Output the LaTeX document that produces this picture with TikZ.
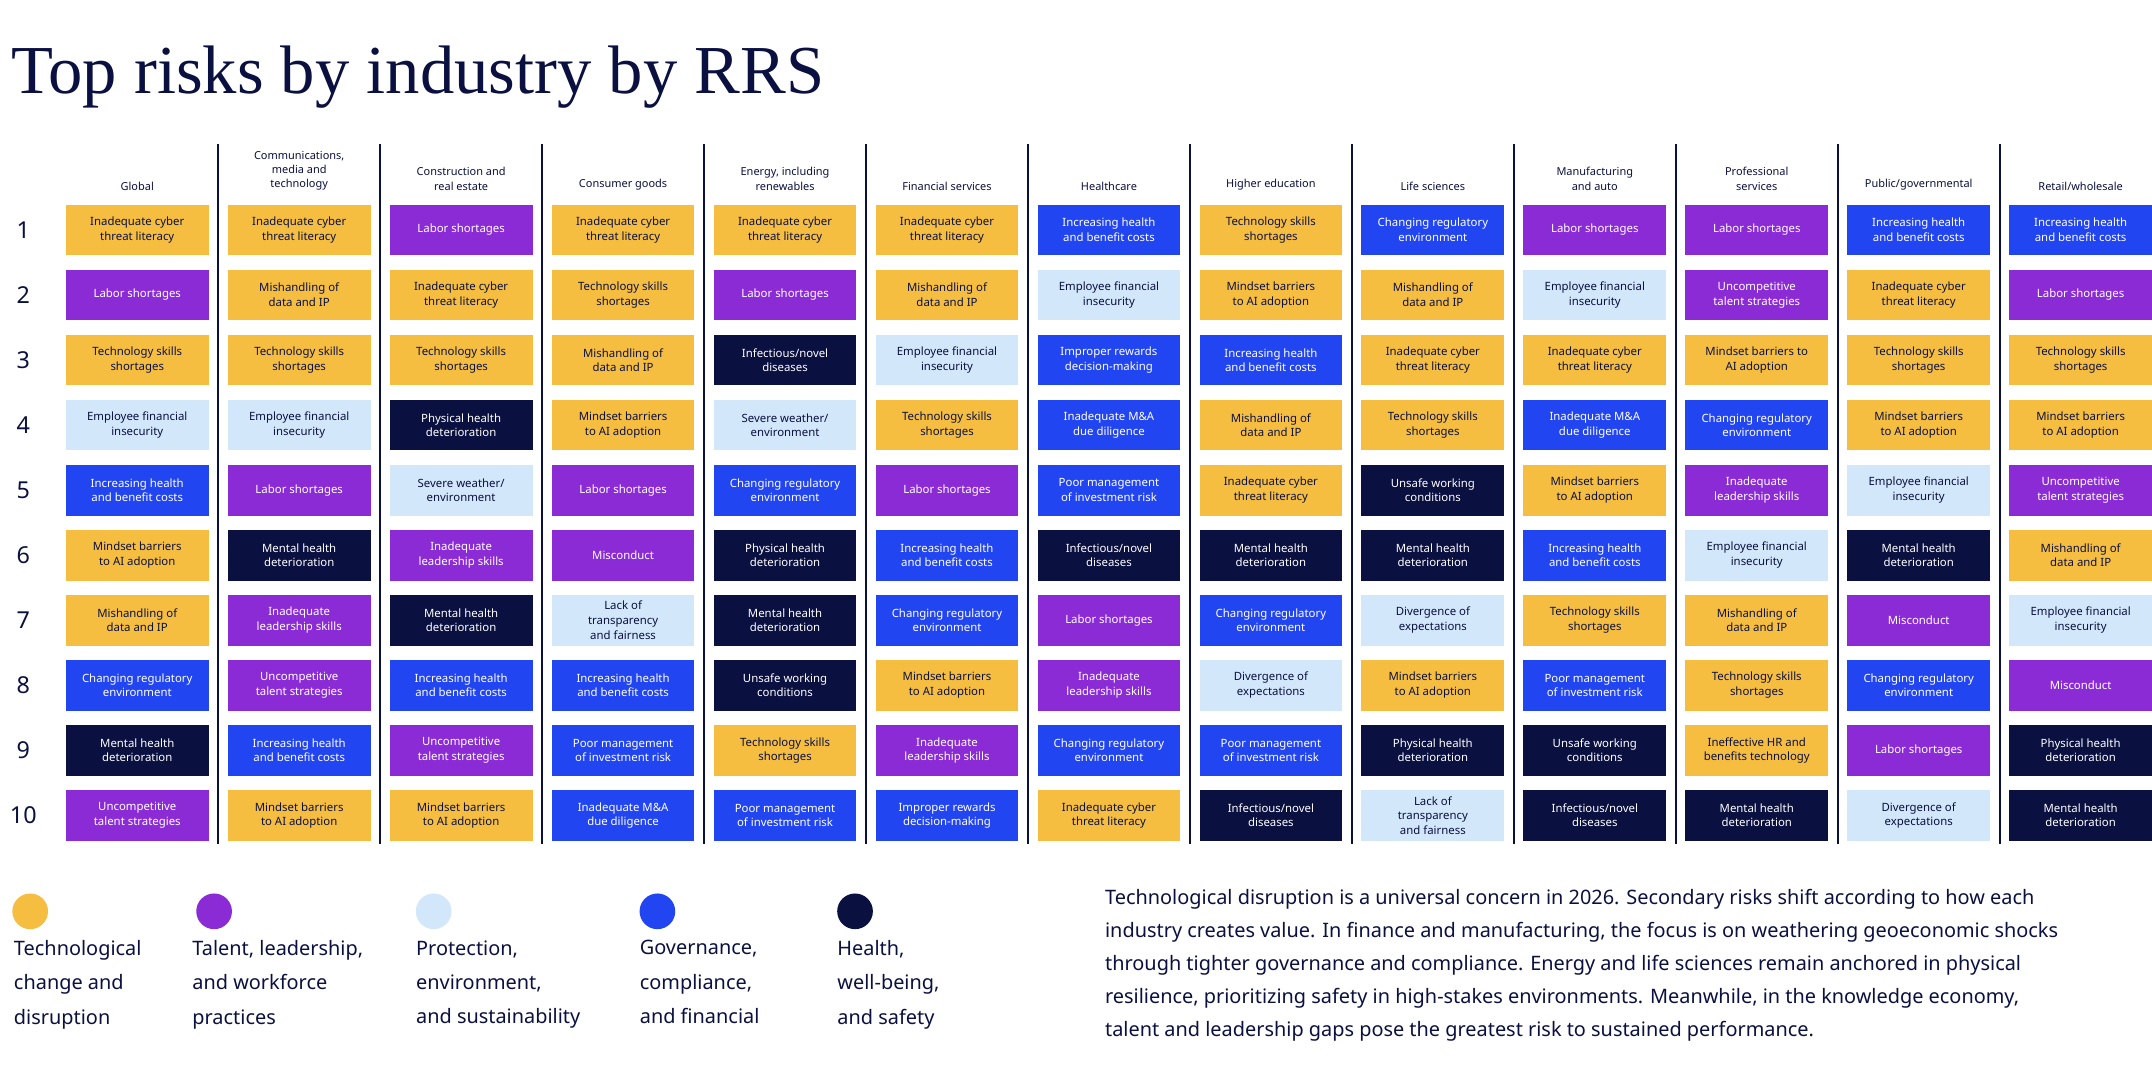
\documentclass[tikz,border=0pt]{standalone}
\usepackage{fontspec}
\setmainfont{Noto Sans}
\newfontfamily\titlefont{Liberation Serif}
\usetikzlibrary{positioning}

\definecolor{yel}{HTML}{F5BE41}
\definecolor{pur}{HTML}{8A2BD6}
\definecolor{lbl}{HTML}{D3E7FA}
\definecolor{blu}{HTML}{2245F2}
\definecolor{nav}{HTML}{0A1040}

\tikzset{
  cell/.style={minimum width=104pt, minimum height=37pt, inner sep=1pt, align=center,
    font=\fontsize{8.3}{10.6}\selectfont\bfseries},
  Y/.style={fill=yel, text=nav},
  P/.style={fill=pur, text=white},
  L/.style={fill=lbl, text=nav},
  B/.style={fill=blu, text=white},
  N/.style={fill=nav, text=white},
  head/.style={anchor=south, align=center, text=nav, inner sep=0pt,
    font=\fontsize{8}{10.5}\selectfont\bfseries},
  rnum/.style={text=nav, inner sep=0pt, font=\fontsize{17}{17}\selectfont\bfseries},
  sep/.style={draw=nav, line width=1.2pt},
  dot/.style={circle, minimum size=26pt, inner sep=0pt},
  legend/.style={anchor=north west, align=left, text=nav, inner sep=0pt,
    font=\fontsize{14.5}{25}\selectfont},
}
% one risk box: column, rank, colour style, text
\newcommand{\risk}[4]{\node[cell,#3] (r#1-#2) at ({100+118*(#1-1)},{167.5+47.4*(#2-1)}) {#4};}

\begin{document}
\begin{tikzpicture}[x=1pt, y=-1pt]
\useasboundingbox (0,0) rectangle (1568,777);

% Title
\node[anchor=base west, inner sep=0pt, text=nav, font=\titlefont\fontsize{50}{50}\selectfont] (title) at (8,68) {Top risks by industry by RRS};

% Headers
\node[head] (h1) at (100,139) {Global};
\node[head] (h2) at (218,139) {Communications,\\media and\\technology};
\node[head] (h3) at (336,139) {Construction and\\real estate};
\node[head] (h4) at (454,139) {Consumer goods};
\node[head] (h5) at (572,139) {Energy, including\\renewables};
\node[head] (h6) at (690,139) {Financial services};
\node[head] (h7) at (808,139) {Healthcare};
\node[head] (h8) at (926,139) {Higher education};
\node[head] (h9) at (1044,139) {Life sciences};
\node[head] (h10) at (1162,139) {Manufacturing\\and auto};
\node[head] (h11) at (1280,139) {Professional\\services};
\node[head] (h12) at (1398,139) {Public/governmental};
\node[head] (h13) at (1516,139) {Retail/wholesale};

% Separators
\foreach \i in {1,...,12}
  \draw[sep] ({159+118*(\i-1)},105) -- ({159+118*(\i-1)},615);

% Ranks
\foreach \i in {1,...,10}
  \node[rnum] (n\i) at (17,{167.5+47.4*(\i-1)}) {\i};

% Global
\risk{1}{1}{Y}{Inadequate cyber\\threat literacy}
\risk{1}{2}{P}{Labor shortages}
\risk{1}{3}{Y}{Technology skills\\shortages}
\risk{1}{4}{L}{Employee financial\\insecurity}
\risk{1}{5}{B}{Increasing health\\and benefit costs}
\risk{1}{6}{Y}{Mindset barriers\\to AI adoption}
\risk{1}{7}{Y}{Mishandling of\\data and IP}
\risk{1}{8}{B}{Changing regulatory\\environment}
\risk{1}{9}{N}{Mental health\\deterioration}
\risk{1}{10}{P}{Uncompetitive\\talent strategies}

% Communications
\risk{2}{1}{Y}{Inadequate cyber\\threat literacy}
\risk{2}{2}{Y}{Mishandling of\\data and IP}
\risk{2}{3}{Y}{Technology skills\\shortages}
\risk{2}{4}{L}{Employee financial\\insecurity}
\risk{2}{5}{P}{Labor shortages}
\risk{2}{6}{N}{Mental health\\deterioration}
\risk{2}{7}{P}{Inadequate\\leadership skills}
\risk{2}{8}{P}{Uncompetitive\\talent strategies}
\risk{2}{9}{B}{Increasing health\\and benefit costs}
\risk{2}{10}{Y}{Mindset barriers\\to AI adoption}

% Construction
\risk{3}{1}{P}{Labor shortages}
\risk{3}{2}{Y}{Inadequate cyber\\threat literacy}
\risk{3}{3}{Y}{Technology skills\\shortages}
\risk{3}{4}{N}{Physical health\\deterioration}
\risk{3}{5}{L}{Severe weather/\\environment}
\risk{3}{6}{P}{Inadequate\\leadership skills}
\risk{3}{7}{N}{Mental health\\deterioration}
\risk{3}{8}{B}{Increasing health\\and benefit costs}
\risk{3}{9}{P}{Uncompetitive\\talent strategies}
\risk{3}{10}{Y}{Mindset barriers\\to AI adoption}

% Consumer goods
\risk{4}{1}{Y}{Inadequate cyber\\threat literacy}
\risk{4}{2}{Y}{Technology skills\\shortages}
\risk{4}{3}{Y}{Mishandling of\\data and IP}
\risk{4}{4}{Y}{Mindset barriers\\to AI adoption}
\risk{4}{5}{P}{Labor shortages}
\risk{4}{6}{P}{Misconduct}
\risk{4}{7}{L}{Lack of\\transparency\\and fairness}
\risk{4}{8}{B}{Increasing health\\and benefit costs}
\risk{4}{9}{B}{Poor management\\of investment risk}
\risk{4}{10}{B}{Inadequate M\&A\\due diligence}

% Energy
\risk{5}{1}{Y}{Inadequate cyber\\threat literacy}
\risk{5}{2}{P}{Labor shortages}
\risk{5}{3}{N}{Infectious/novel\\diseases}
\risk{5}{4}{L}{Severe weather/\\environment}
\risk{5}{5}{B}{Changing regulatory\\environment}
\risk{5}{6}{N}{Physical health\\deterioration}
\risk{5}{7}{N}{Mental health\\deterioration}
\risk{5}{8}{N}{Unsafe working\\conditions}
\risk{5}{9}{Y}{Technology skills\\shortages}
\risk{5}{10}{B}{Poor management\\of investment risk}

% Financial services
\risk{6}{1}{Y}{Inadequate cyber\\threat literacy}
\risk{6}{2}{Y}{Mishandling of\\data and IP}
\risk{6}{3}{L}{Employee financial\\insecurity}
\risk{6}{4}{Y}{Technology skills\\shortages}
\risk{6}{5}{P}{Labor shortages}
\risk{6}{6}{B}{Increasing health\\and benefit costs}
\risk{6}{7}{B}{Changing regulatory\\environment}
\risk{6}{8}{Y}{Mindset barriers\\to AI adoption}
\risk{6}{9}{P}{Inadequate\\leadership skills}
\risk{6}{10}{B}{Improper rewards\\decision-making}

% Healthcare
\risk{7}{1}{B}{Increasing health\\and benefit costs}
\risk{7}{2}{L}{Employee financial\\insecurity}
\risk{7}{3}{B}{Improper rewards\\decision-making}
\risk{7}{4}{B}{Inadequate M\&A\\due diligence}
\risk{7}{5}{B}{Poor management\\of investment risk}
\risk{7}{6}{N}{Infectious/novel\\diseases}
\risk{7}{7}{P}{Labor shortages}
\risk{7}{8}{P}{Inadequate\\leadership skills}
\risk{7}{9}{B}{Changing regulatory\\environment}
\risk{7}{10}{Y}{Inadequate cyber\\threat literacy}

% Higher education
\risk{8}{1}{Y}{Technology skills\\shortages}
\risk{8}{2}{Y}{Mindset barriers\\to AI adoption}
\risk{8}{3}{B}{Increasing health\\and benefit costs}
\risk{8}{4}{Y}{Mishandling of\\data and IP}
\risk{8}{5}{Y}{Inadequate cyber\\threat literacy}
\risk{8}{6}{N}{Mental health\\deterioration}
\risk{8}{7}{B}{Changing regulatory\\environment}
\risk{8}{8}{L}{Divergence of\\expectations}
\risk{8}{9}{B}{Poor management\\of investment risk}
\risk{8}{10}{N}{Infectious/novel\\diseases}

% Life sciences
\risk{9}{1}{B}{Changing regulatory\\environment}
\risk{9}{2}{Y}{Mishandling of\\data and IP}
\risk{9}{3}{Y}{Inadequate cyber\\threat literacy}
\risk{9}{4}{Y}{Technology skills\\shortages}
\risk{9}{5}{N}{Unsafe working\\conditions}
\risk{9}{6}{N}{Mental health\\deterioration}
\risk{9}{7}{L}{Divergence of\\expectations}
\risk{9}{8}{Y}{Mindset barriers\\to AI adoption}
\risk{9}{9}{N}{Physical health\\deterioration}
\risk{9}{10}{L}{Lack of\\transparency\\and fairness}

% Manufacturing
\risk{10}{1}{P}{Labor shortages}
\risk{10}{2}{L}{Employee financial\\insecurity}
\risk{10}{3}{Y}{Inadequate cyber\\threat literacy}
\risk{10}{4}{B}{Inadequate M\&A\\due diligence}
\risk{10}{5}{Y}{Mindset barriers\\to AI adoption}
\risk{10}{6}{B}{Increasing health\\and benefit costs}
\risk{10}{7}{Y}{Technology skills\\shortages}
\risk{10}{8}{B}{Poor management\\of investment risk}
\risk{10}{9}{N}{Unsafe working\\conditions}
\risk{10}{10}{N}{Infectious/novel\\diseases}

% Professional services
\risk{11}{1}{P}{Labor shortages}
\risk{11}{2}{P}{Uncompetitive\\talent strategies}
\risk{11}{3}{Y}{Mindset barriers to\\AI adoption}
\risk{11}{4}{B}{Changing regulatory\\environment}
\risk{11}{5}{P}{Inadequate\\leadership skills}
\risk{11}{6}{L}{Employee financial\\insecurity}
\risk{11}{7}{Y}{Mishandling of\\data and IP}
\risk{11}{8}{Y}{Technology skills\\shortages}
\risk{11}{9}{Y}{Ineffective HR and\\benefits technology}
\risk{11}{10}{N}{Mental health\\deterioration}

% Public
\risk{12}{1}{B}{Increasing health\\and benefit costs}
\risk{12}{2}{Y}{Inadequate cyber\\threat literacy}
\risk{12}{3}{Y}{Technology skills\\shortages}
\risk{12}{4}{Y}{Mindset barriers\\to AI adoption}
\risk{12}{5}{L}{Employee financial\\insecurity}
\risk{12}{6}{N}{Mental health\\deterioration}
\risk{12}{7}{P}{Misconduct}
\risk{12}{8}{B}{Changing regulatory\\environment}
\risk{12}{9}{P}{Labor shortages}
\risk{12}{10}{L}{Divergence of\\expectations}

% Retail
\risk{13}{1}{B}{Increasing health\\and benefit costs}
\risk{13}{2}{P}{Labor shortages}
\risk{13}{3}{Y}{Technology skills\\shortages}
\risk{13}{4}{Y}{Mindset barriers\\to AI adoption}
\risk{13}{5}{P}{Uncompetitive\\talent strategies}
\risk{13}{6}{Y}{Mishandling of\\data and IP}
\risk{13}{7}{L}{Employee financial\\insecurity}
\risk{13}{8}{P}{Misconduct}
\risk{13}{9}{N}{Physical health\\deterioration}
\risk{13}{10}{N}{Mental health\\deterioration}

% Legend
\node[dot, fill=yel] (k1) at (22,664) {};
\node[dot, fill=pur] (k2) at (156,664) {};
\node[dot, fill=lbl] (k3) at (316,664) {};
\node[dot, fill=blu] (k4) at (479,664) {};
\node[dot, fill=nav] (k5) at (623,664) {};
\node[legend] (t1) at (10,685) {Technological\\change and\\disruption};
\node[legend] (t2) at (140,685) {Talent, leadership,\\and workforce\\practices};
\node[legend] (t3) at (303,685) {Protection,\\environment,\\and sustainability};
\node[legend] (t4) at (466,685) {Governance,\\compliance,\\and financial};
\node[legend] (t5) at (610,685) {Health,\\well-being,\\and safety};

% Note
\node[legend, font=\fontsize{14.5}{24}\selectfont] (note) at (805,648) {Technological disruption is a universal concern in 2026. Secondary risks shift according to how each\\industry creates value. In finance and manufacturing, the focus is on weathering geoeconomic shocks\\through tighter governance and compliance. Energy and life sciences remain anchored in physical\\resilience, prioritizing safety in high-stakes environments. Meanwhile, in the knowledge economy,\\talent and leadership gaps pose the greatest risk to sustained performance.};
\end{tikzpicture}
\end{document}
